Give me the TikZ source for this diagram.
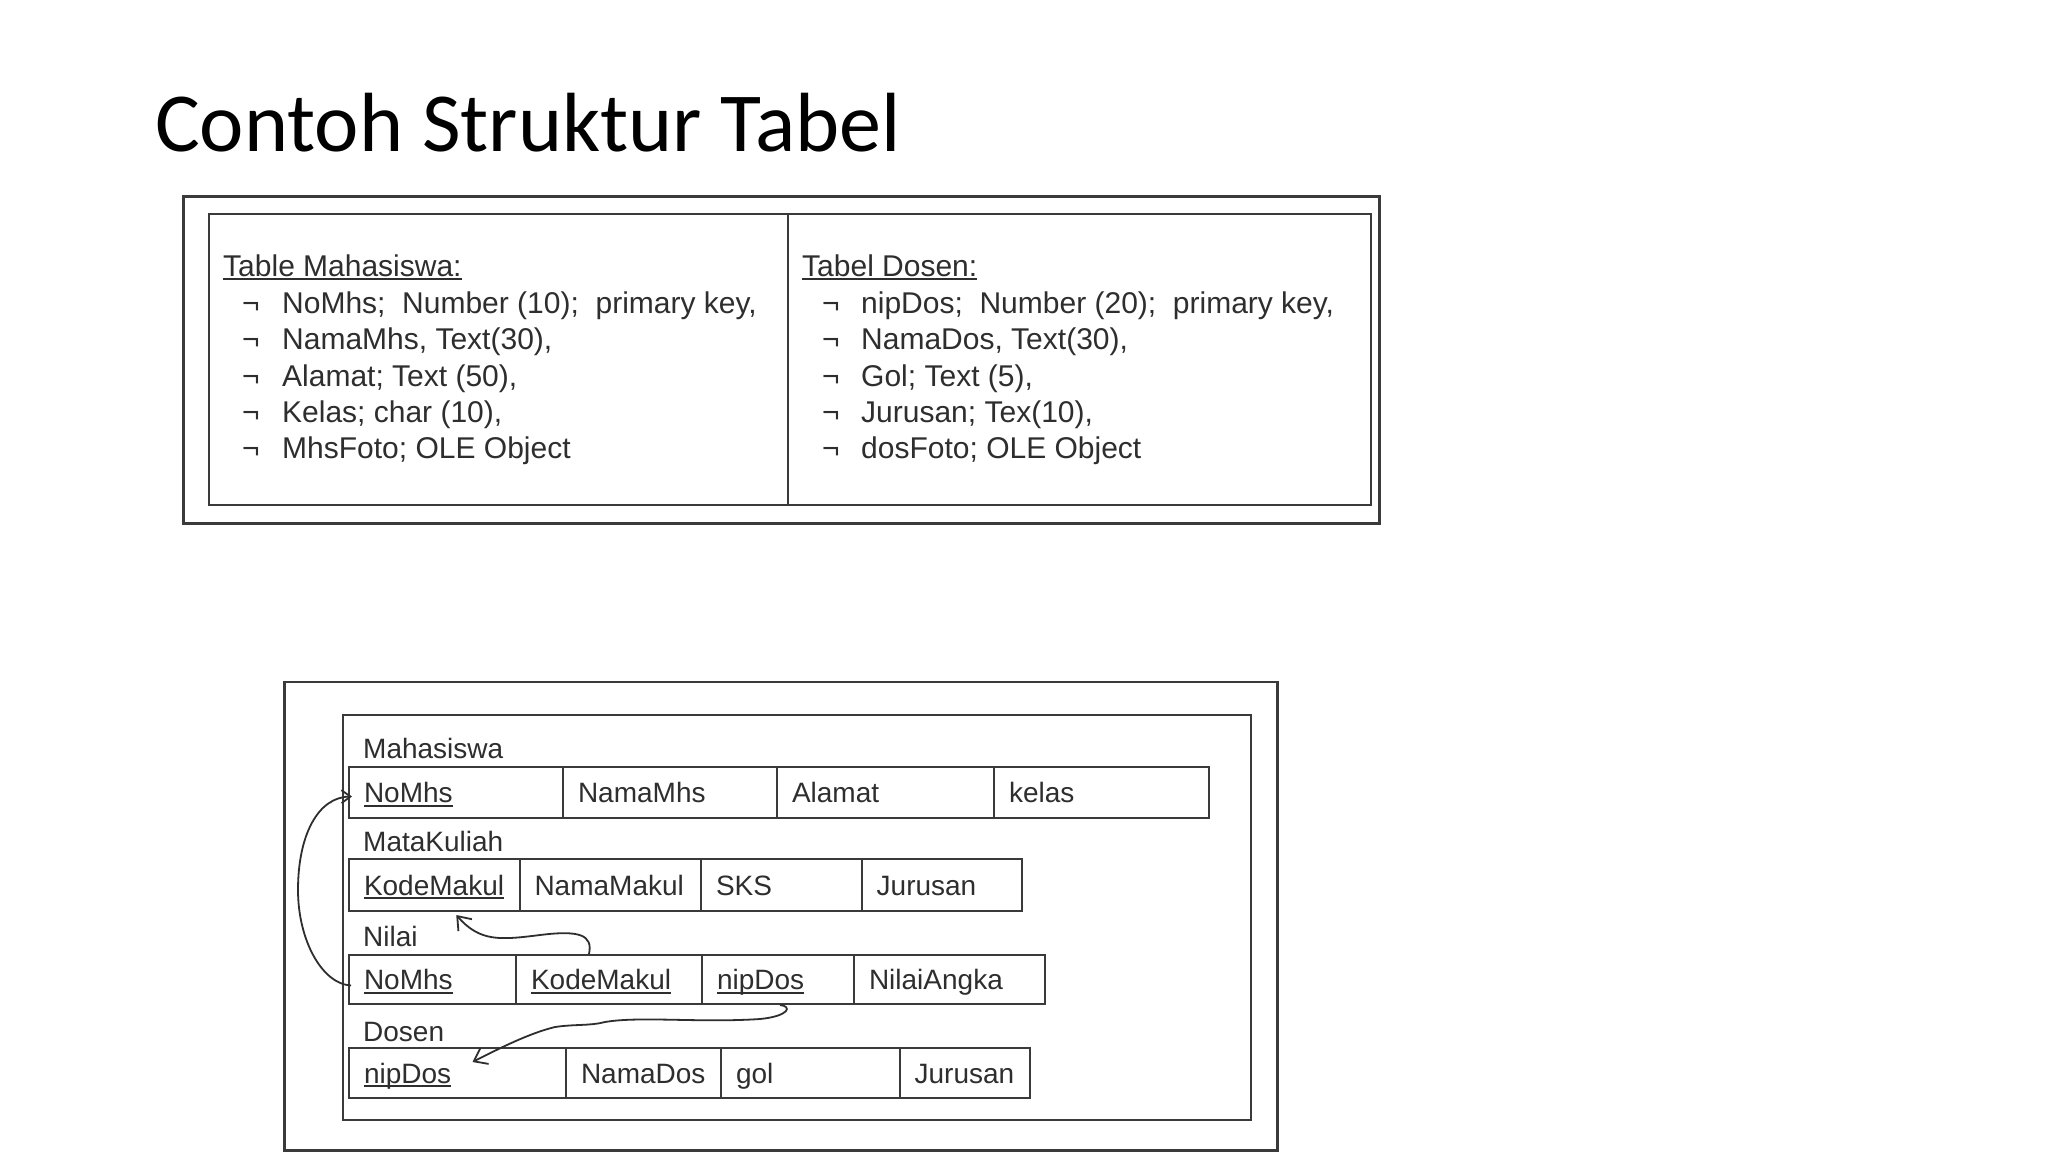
\documentclass[tikz,border=0pt]{standalone}
\usepackage{fontspec}
\setmainfont{Liberation Sans}
\newfontfamily\titlefont{Carlito}
\usetikzlibrary{arrows.meta,calc}
\definecolor{ink}{HTML}{2E2E2E}
\definecolor{linec}{HTML}{3A3A3A}
\newcommand\undl[1]{\setbox0\hbox{#1}\rlap{\color{ink}\rule[-4pt]{\wd0}{1.8pt}}\box0}
\tikzset{
  cell/.style={draw=linec, line width=2pt, anchor=west, inner xsep=15pt, inner ysep=0pt,
    align=left, text height=20pt, text depth=0pt, text=ink, font=\fontsize{28}{28}\selectfont},
  lbl/.style={anchor=base west, inner sep=0pt, text=ink, font=\fontsize{28}{28}\selectfont},
  toptxt/.style={anchor=base west, inner sep=0pt, text=ink, font=\fontsize{30}{30}\selectfont},
  link/.style={draw=ink, line width=1.8pt, -{Straight Barb[length=12pt,width=18pt,line width=1.8pt]}}
}
\begin{document}
\begin{tikzpicture}[x=1pt,y=-1pt]
\useasboundingbox[fill=white] (0,0) rectangle (2048,1152);

% Title
\node[anchor=base west, inner sep=0pt, font=\titlefont\fontsize{84}{84}\selectfont, text=black]
  (title) at (155,151) {Contoh Struktur Tabel};

% Top box
\node[draw=linec, line width=3pt, minimum width=1196.5pt, minimum height=327.8pt, anchor=north west, inner sep=0pt]
  (topouter) at (181.5,194.6) {};
\node[draw=linec, line width=2pt, minimum width=1162.3pt, minimum height=291.1pt, anchor=north west, inner sep=0pt]
  (topinner) at (207.7,212.9) {};
\draw[draw=linec, line width=2pt] (topinner.north -| 787.5,0) coordinate (divtop) -- (topinner.south -| 787.5,0) coordinate (divbot);

% left column
\node[toptxt] (lh) at (223,276) {\undl{Table Mahasiswa:}};
\node[toptxt] (lb1) at (242,313.5) {¬};
\node[toptxt] (lt1) at (282,313.5) {NoMhs;\ \ Number (10);\ \ primary key,};
\node[toptxt] (lb2) at (242,349.8) {¬};
\node[toptxt] (lt2) at (282,349.8) {NamaMhs, Text(30),};
\node[toptxt] (lb3) at (242,386.1) {¬};
\node[toptxt] (lt3) at (282,386.1) {Alamat; Text (50),};
\node[toptxt] (lb4) at (242,422.4) {¬};
\node[toptxt] (lt4) at (282,422.4) {Kelas; char (10),};
\node[toptxt] (lb5) at (242,458.7) {¬};
\node[toptxt] (lt5) at (282,458.7) {MhsFoto; OLE Object};

% right column
\node[toptxt] (rh) at (802,276) {\undl{Tabel Dosen:}};
\node[toptxt] (rb1) at (822,313.5) {¬};
\node[toptxt] (rt1) at (861,313.5) {nipDos;\ \ Number (20);\ \ primary key,};
\node[toptxt] (rb2) at (822,349.8) {¬};
\node[toptxt] (rt2) at (861,349.8) {NamaDos, Text(30),};
\node[toptxt] (rb3) at (822,386.1) {¬};
\node[toptxt] (rt3) at (861,386.1) {Gol; Text (5),};
\node[toptxt] (rb4) at (822,422.4) {¬};
\node[toptxt] (rt4) at (861,422.4) {Jurusan; Tex(10),};
\node[toptxt] (rb5) at (822,458.7) {¬};
\node[toptxt] (rt5) at (861,458.7) {dosFoto; OLE Object};

% Bottom boxes
\node[draw=linec, line width=2.6pt, minimum width=992.6pt, minimum height=468.9pt, anchor=north west, inner sep=0pt]
  (botouter) at (283.4,680.5) {};
\node[draw=linec, line width=2pt, minimum width=907.8pt, minimum height=404.9pt, anchor=north west, inner sep=0pt]
  (botinner) at (342.2,714.4) {};

% Mahasiswa
\node[lbl] (lm) at (363,758) {Mahasiswa};
\node[cell, minimum height=51pt, text width=184pt] (mNo) at (348,792.5) {\undl{NoMhs}};
\node[cell, minimum height=51pt, text width=184pt] (mNama) at (562,792.5) {NamaMhs};
\node[cell, minimum height=51pt, text width=187pt] (mAlamat) at (776,792.5) {Alamat};
\node[cell, minimum height=51pt, text width=185pt] (mKelas) at (993,792.5) {kelas};

% MataKuliah
\node[lbl] (lk) at (363,851) {MataKuliah};
\node[cell, minimum height=52pt, text width=140.5pt] (kKode) at (348,885) {\undl{KodeMakul}};
\node[cell, minimum height=52pt, text width=151.5pt] (kNama) at (518.5,885) {NamaMakul};
\node[cell, minimum height=52pt, text width=130.7pt] (kSKS) at (700,885) {SKS};
\node[cell, minimum height=52pt, text width=130.6pt] (kJur) at (860.7,885) {Jurusan};

% Nilai
\node[lbl] (ln) at (363,946.5) {Nilai};
\node[cell, minimum height=49pt, text width=137pt] (nNo) at (348,979.5) {\undl{NoMhs}};
\node[cell, minimum height=49pt, text width=156pt] (nKode) at (515,979.5) {\undl{KodeMakul}};
\node[cell, minimum height=49pt, text width=122pt] (nNip) at (701,979.5) {\undl{nipDos}};
\node[cell, minimum height=49pt, text width=160.5pt] (nNilai) at (853,979.5) {NilaiAngka};

% Dosen
\node[lbl] (ld) at (363,1041.5) {Dosen};
\node[cell, minimum height=50pt, text width=187pt] (dNip) at (348,1073) {\undl{nipDos}};
\node[cell, minimum height=50pt, text width=125pt] (dNama) at (565,1073) {NamaDos};
\node[cell, minimum height=50pt, text width=148.6pt] (dGol) at (720,1073) {gol};
\node[cell, minimum height=50pt, text width=100.4pt] (dJur) at (898.6,1073) {Jurusan};

% Connectors
\draw[link, -{Straight Barb[length=9pt,width=13pt,line width=1.8pt]}]
  ($(nNo.west)+(3,6)$) .. controls (322,984) and (298,940) .. (298,890)
  .. controls (298,835) and (318,797) .. ($(mNo.west)+(4,4)$);
\draw[link]
  ($(nKode.north)+(-20,0)$) .. controls (593,935) and (580,930) .. (540,935)
  .. controls (500,940) and (480,942) .. ($(kKode.south)+(22,3)$);
\draw[link]
  ($(nNip.south)+(2,0)$) .. controls (792,1006) and (790,1016) .. (760,1019)
  .. controls (700,1023) and (640,1016) .. (605,1022)
  .. controls (590,1026) and (575,1024) .. (555,1027)
  .. controls (530,1033) and (500,1048) .. ($(dNip.center)+(15,-11)$);
\end{tikzpicture}
\end{document}
